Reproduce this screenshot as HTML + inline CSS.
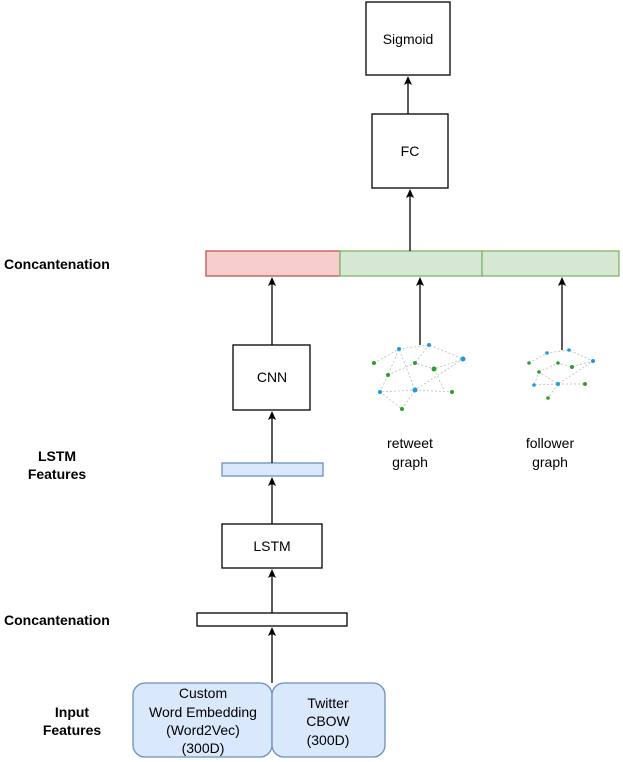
<!DOCTYPE html>
<html><head><style>body{margin:0;background:#fff}svg{display:block}text{font-family:"Liberation Sans",sans-serif;font-size:14px;fill:#000}</style></head>
<body>
<svg width="623" height="762" viewBox="0 0 623 762" xmlns="http://www.w3.org/2000/svg">
<g stroke="#000" stroke-width="1.3" fill="none">
<rect x="366" y="2" width="84" height="73" fill="#fff"/>
<rect x="372" y="114" width="76" height="74" fill="#fff"/>
<rect x="206" y="251" width="134" height="25" fill="#f8cecc" stroke="#b85450"/>
<rect x="340" y="251" width="142" height="25" fill="#d5e8d4" stroke="#82b366"/>
<rect x="482" y="251" width="137" height="25" fill="#d5e8d4" stroke="#82b366"/>
<rect x="233" y="345" width="77" height="65" fill="#fff"/>
<rect x="222" y="463" width="101" height="13" fill="#dae8fc" stroke="#6c8ebf"/>
<rect x="222" y="524" width="100" height="44" fill="#fff"/>
<rect x="197" y="613" width="150" height="13" fill="#fff"/>
<rect x="133" y="683" width="139" height="74" rx="12" fill="#dae8fc" stroke="#6c8ebf"/>
<rect x="272" y="683" width="113" height="74" rx="12" fill="#dae8fc" stroke="#6c8ebf"/>
<line x1="408" y1="114" x2="408" y2="82"/>
<line x1="410" y1="251" x2="410" y2="195"/>
<line x1="272" y1="345" x2="272" y2="283"/>
<line x1="420" y1="345" x2="420" y2="283"/>
<line x1="562" y1="350" x2="562" y2="283"/>
<line x1="272" y1="463" x2="272" y2="417"/>
<line x1="272" y1="524" x2="272" y2="483"/>
<line x1="272" y1="613" x2="272" y2="575"/>
<line x1="272" y1="683" x2="272" y2="633"/>
</g>
<g fill="#000">
<path d="M408,76 l-4,9 l4,-2 l4,2 z"/>
<path d="M410,189 l-4,9 l4,-2 l4,2 z"/>
<path d="M272,277 l-4,9 l4,-2 l4,2 z"/>
<path d="M420,277 l-4,9 l4,-2 l4,2 z"/>
<path d="M562,277 l-4,9 l4,-2 l4,2 z"/>
<path d="M272,411 l-4,9 l4,-2 l4,2 z"/>
<path d="M272,477 l-4,9 l4,-2 l4,2 z"/>
<path d="M272,569 l-4,9 l4,-2 l4,2 z"/>
<path d="M272,627 l-4,9 l4,-2 l4,2 z"/>
</g>
<g stroke="#bbb" stroke-width="0.8" stroke-dasharray="2,2" fill="none">
<path d="M374,363 L399,349 L429,345 L463,359 L415,390 L380,392 L388,375 L399,349 L415,390 L402,409 L380,392 M388,375 L415,363 L434,369 L463,359 M415,390 L452,392 M429,345 L415,363 M434,369 L444,390"/>
<path d="M529,363 L547,353 L569,350 L593,361 L558,384 L534,385 L539,372 L558,384 L548,398 M539,372 L558,363 L572,367 L593,361 M558,384 L585,384"/>
</g>
<g>
<circle cx="374" cy="363" r="2" fill="#2ca02c"/><circle cx="399" cy="349" r="2" fill="#1f9ae0"/><circle cx="429" cy="345" r="2" fill="#1f9ae0"/><circle cx="463" cy="359" r="2.5" fill="#1f9ae0"/><circle cx="415" cy="363" r="2" fill="#2ca02c"/><circle cx="434" cy="369" r="2.5" fill="#2ca02c"/><circle cx="388" cy="375" r="2" fill="#2ca02c"/><circle cx="380" cy="392" r="2" fill="#1f9ae0"/><circle cx="415" cy="390" r="2.5" fill="#1f9ae0"/><circle cx="452" cy="392" r="2" fill="#2ca02c"/><circle cx="402" cy="409" r="2" fill="#2ca02c"/>
<circle cx="529" cy="363" r="1.8" fill="#2ca02c"/><circle cx="547" cy="353" r="1.8" fill="#1f9ae0"/><circle cx="569" cy="350" r="1.8" fill="#1f9ae0"/><circle cx="593" cy="361" r="2" fill="#1f9ae0"/><circle cx="558" cy="363" r="1.8" fill="#2ca02c"/><circle cx="572" cy="367" r="2" fill="#2ca02c"/><circle cx="539" cy="372" r="1.8" fill="#2ca02c"/><circle cx="534" cy="385" r="1.8" fill="#1f9ae0"/><circle cx="558" cy="384" r="2" fill="#1f9ae0"/><circle cx="585" cy="384" r="2" fill="#2ca02c"/><circle cx="548" cy="398" r="1.8" fill="#2ca02c"/>
</g>
<g text-anchor="middle">
<text x="408" y="44">Sigmoid</text>
<text x="410" y="156">FC</text>
<text x="272" y="382">CNN</text>
<text x="272" y="551">LSTM</text>
<text x="410" y="448">retweet</text><text x="410" y="467">graph</text>
<text x="550" y="448">follower</text><text x="550" y="467">graph</text>
<text x="203" y="698">Custom</text><text x="203" y="717">Word Embedding</text><text x="203" y="735">(Word2Vec)</text><text x="203" y="753">(300D)</text>
<text x="328" y="708">Twitter</text><text x="328" y="726">CBOW</text><text x="328" y="745">(300D)</text>
<text x="57" y="461" style="font-weight:bold">LSTM</text><text x="57" y="479" style="font-weight:bold">Features</text>
<text x="72" y="717" style="font-weight:bold">Input</text><text x="72" y="735" style="font-weight:bold">Features</text>
</g>
<text x="4" y="269" style="font-weight:bold">Concantenation</text>
<text x="4" y="625" style="font-weight:bold">Concantenation</text>
</svg>
</body></html>
